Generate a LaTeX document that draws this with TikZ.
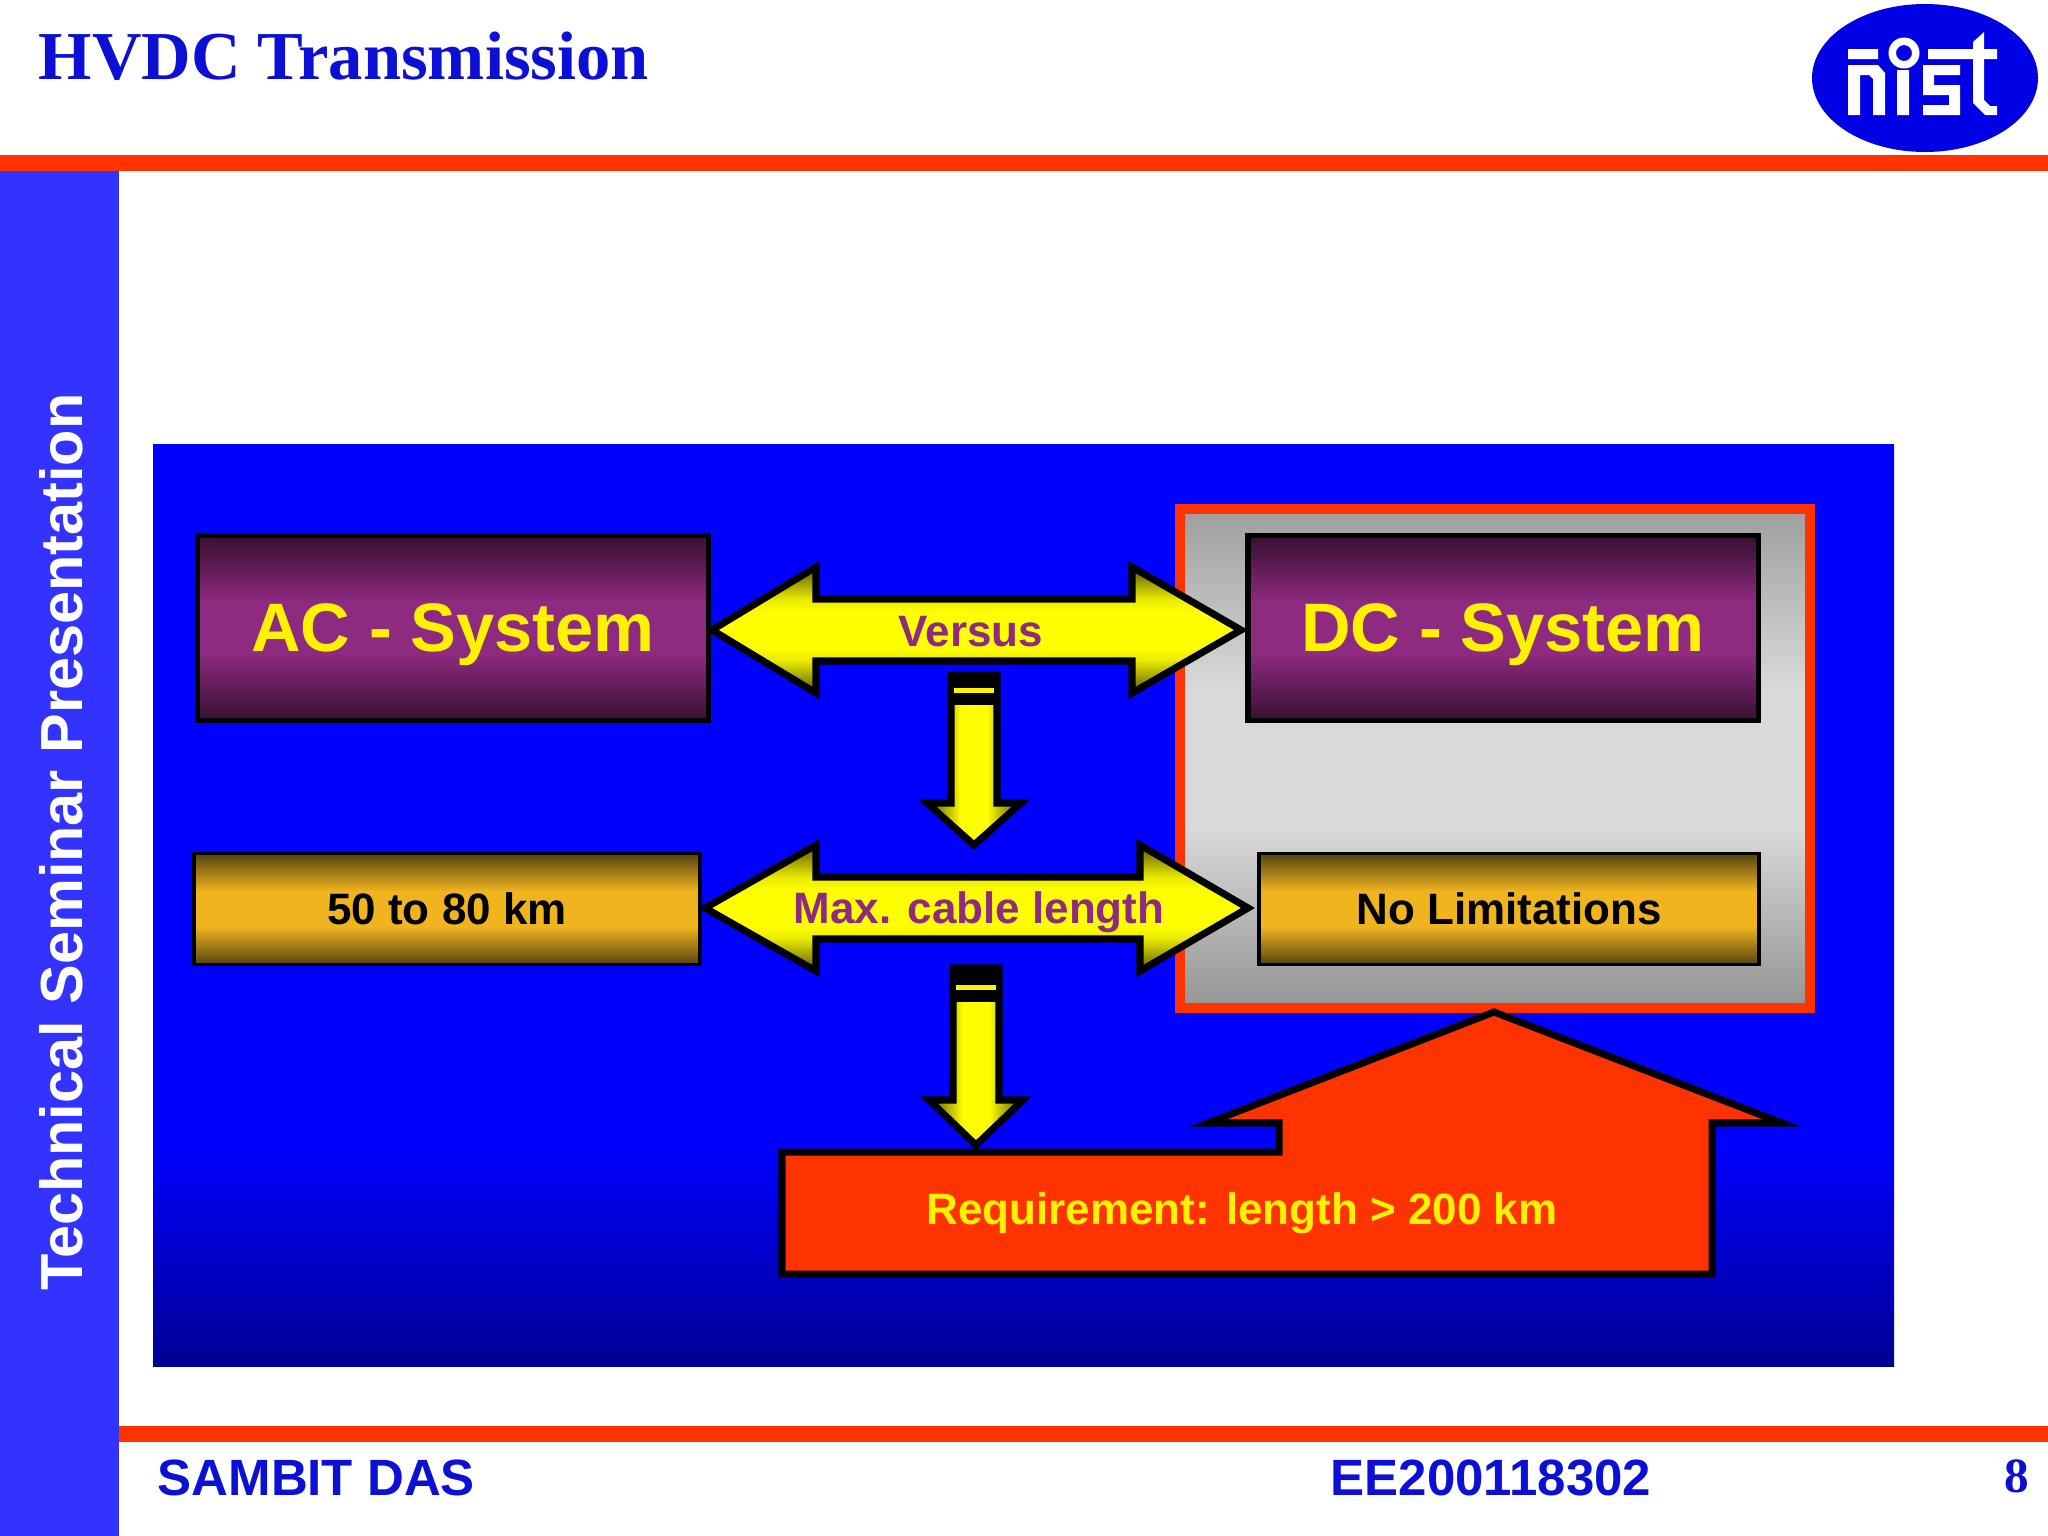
\documentclass[tikz,border=0pt]{standalone}
\usepackage{fontspec}
\setmainfont{Liberation Sans}
\newfontfamily\titlefont{Liberation Serif}
\definecolor{flame}{HTML}{FF3300}
\definecolor{sidebar}{HTML}{3333FF}
\definecolor{inkblue}{HTML}{0C10D4}
\definecolor{plum}{HTML}{8E2A80}
\definecolor{gold}{HTML}{F0B41E}
\definecolor{goldedge}{HTML}{54430F}
\pgfdeclareverticalshading{panelfade}{100bp}{color(0bp)=(blue!58!black); color(25bp)=(blue!58!black); color(37bp)=(blue); color(100bp)=(blue)}
\pgfdeclareverticalshading{greyfade}{100bp}{color(0bp)=(black!42); color(25bp)=(black!42); color(43bp)=(black!15); color(57bp)=(black!15); color(75bp)=(black!38); color(100bp)=(black!38)}
\pgfdeclareverticalshading{plumfade}{100bp}{color(0bp)=(plum!38!black); color(25bp)=(plum!38!black); color(43bp)=(plum); color(57bp)=(plum); color(75bp)=(plum!38!black); color(100bp)=(plum!38!black)}
\pgfdeclareverticalshading{goldfade}{100bp}{color(0bp)=(goldedge); color(25bp)=(goldedge); color(42bp)=(gold); color(58bp)=(gold); color(75bp)=(goldedge); color(100bp)=(goldedge)}
\pgfdeclareverticalshading{yellowfade}{100bp}{color(0bp)=(yellow!35!black); color(25bp)=(yellow!35!black); color(38bp)=(yellow!92!black); color(43bp)=(yellow); color(57bp)=(yellow); color(62bp)=(yellow!92!black); color(75bp)=(yellow!35!black); color(100bp)=(yellow!35!black)}
\pgfdeclarehorizontalshading{yellowside}{100bp}{color(0bp)=(yellow!35!black); color(25bp)=(yellow!35!black); color(38bp)=(yellow!80!black); color(43bp)=(yellow); color(57bp)=(yellow); color(62bp)=(yellow!80!black); color(75bp)=(yellow!35!black); color(100bp)=(yellow!35!black)}
\tikzset{
  plumbox/.style={draw=black,line width=1.5pt,shading=plumfade,minimum width=5.1cm,minimum height=1.85cm,text=yellow,text depth=0pt,font=\bfseries\fontsize{19.5}{22}\selectfont},
  goldbox/.style={draw=black,line width=1.1pt,shading=goldfade,minimum height=1.11cm,text=black,font=\bfseries\fontsize{12.5}{15}\selectfont},
  blocktip/.style={draw=black,line width=2pt,miter limit=10,line join=miter},
  midtext/.style={text=plum,text depth=0pt,font=\bfseries\fontsize{12.5}{15}\selectfont},
  foottext/.style={text=inkblue,anchor=base west,inner sep=0pt,font=\bfseries\fontsize{14.5}{17}\selectfont}
}
\newcommand{\twinarrow}[6]{%
  \draw[blocktip,shading=yellowfade] (#1,#5) -- (#2,#5-#6) -- (#2,#5-31) -- (#3,#5-31) -- (#3,#5-#6) -- (#4,#5)
    -- (#3,#5+#6) -- (#3,#5+31) -- (#2,#5+31) -- (#2,#5+#6) -- cycle;
}
\newcommand{\droparrow}[6]{%
  \draw[blocktip,shading=yellowside] (#1-23,#2) -- (#1+23,#2) -- (#1+23,#5) -- (#1+47,#5) -- (#1,#6) -- (#1-47,#5) -- (#1-23,#5) -- cycle;
  \fill[black] (#1-25,#2-2) rectangle (#1+25,#4);
  \fill[yellow] (#1-20,#3) rectangle (#1+20,#3+5);
}
\begin{document}
\begin{tikzpicture}[x=.01cm,y=-.01cm]
  \useasboundingbox (0,0) rectangle (2048,1536);
  \fill[white] (0,0) rectangle (2048,1536);
  % frame
  \fill[flame] (0,155) rectangle (2048,171);
  \fill[sidebar] (0,171) rectangle (119,1536);
  \fill[flame] (119,1426) rectangle (2048,1442);
  \node[anchor=base west,inner sep=0pt,text=inkblue,font=\titlefont\bfseries\fontsize{19.5}{22}\selectfont] (title) at (38,79) {HVDC Transmission};
  \node[anchor=base,rotate=90,text=white,font=\bfseries\fontsize{16.9}{20}\selectfont] (side) at (82,842) {Technical Seminar Presentation};
  \node[foottext] (name) at (157,1495) {SAMBIT DAS};
  \node[foottext] (roll) at (1330,1495) {EE200118302};
  \node[anchor=base,inner sep=0pt,text=inkblue,font=\titlefont\bfseries\fontsize{14}{16}\selectfont] (page) at (2017,1492) {8};
  % logo
  \fill[blue!90!black] (1925,78) ellipse (113 and 74);
  \fill[white] (1848,49) rectangle (1878,59) (1897,70) rectangle (1909,115) (1928,49) rectangle (1997,59);
  \fill[white] (1848,115) -- (1848,65) -- (1878,65) -- (1885,73) -- (1885,115) -- (1873,115) -- (1873,79) -- (1869,75) -- (1860,75) -- (1860,115) -- cycle;
  \fill[white] (1923,65) -- (1960,65) -- (1960,75) -- (1934,75) -- (1934,85) -- (1960,85) -- (1960,115) -- (1923,115) -- (1923,105) -- (1949,105) -- (1949,95) -- (1923,95) -- cycle;
  \fill[white] (1973,42) -- (1984,32) -- (1984,100) -- (1990,106) -- (1997,106) -- (1997,115) -- (1985,115) -- (1973,103) -- cycle;
  \fill[white,even odd rule] (1904,53) circle (15.5) (1904,53) circle (8);
  % panel
  \shade[shading=panelfade] (153,444) rectangle (1894,1366);
  \draw[draw=flame,line width=3pt,shading=greyfade] (1180,509) rectangle (1810,1008);
  \twinarrow{712}{816}{1132}{1241}{630}{63}
  \twinarrow{705}{816}{1140}{1248}{908}{63}
  \droparrow{974}{675}{688}{705}{803}{845}
  \droparrow{976}{968}{985}{1002}{1100}{1145}
  \draw[blocktip,fill=flame] (782,1152) -- (1279,1152) -- (1279,1123) -- (1208,1123) -- (1494,1012) -- (1782,1123) -- (1712,1123) -- (1712,1274) -- (782,1274) -- cycle;
  \node[plumbox] (ac) at (453,628) {AC - System};
  \node[plumbox] (dc) at (1503,628) {DC - System};
  \node[goldbox,minimum width=5.05cm] (short) at (447,909) {50 to 80 km};
  \node[goldbox,minimum width=5cm] (nolimit) at (1509,909) {No Limitations};
  \node[midtext] (versus) at (971,631) {Versus};
  \node[midtext] (maxlen) at (979,908) {Max. cable length};
  \node[midtext,text=yellow] (need) at (1242,1209) {Requirement: length > 200 km};
\end{tikzpicture}
\end{document}
